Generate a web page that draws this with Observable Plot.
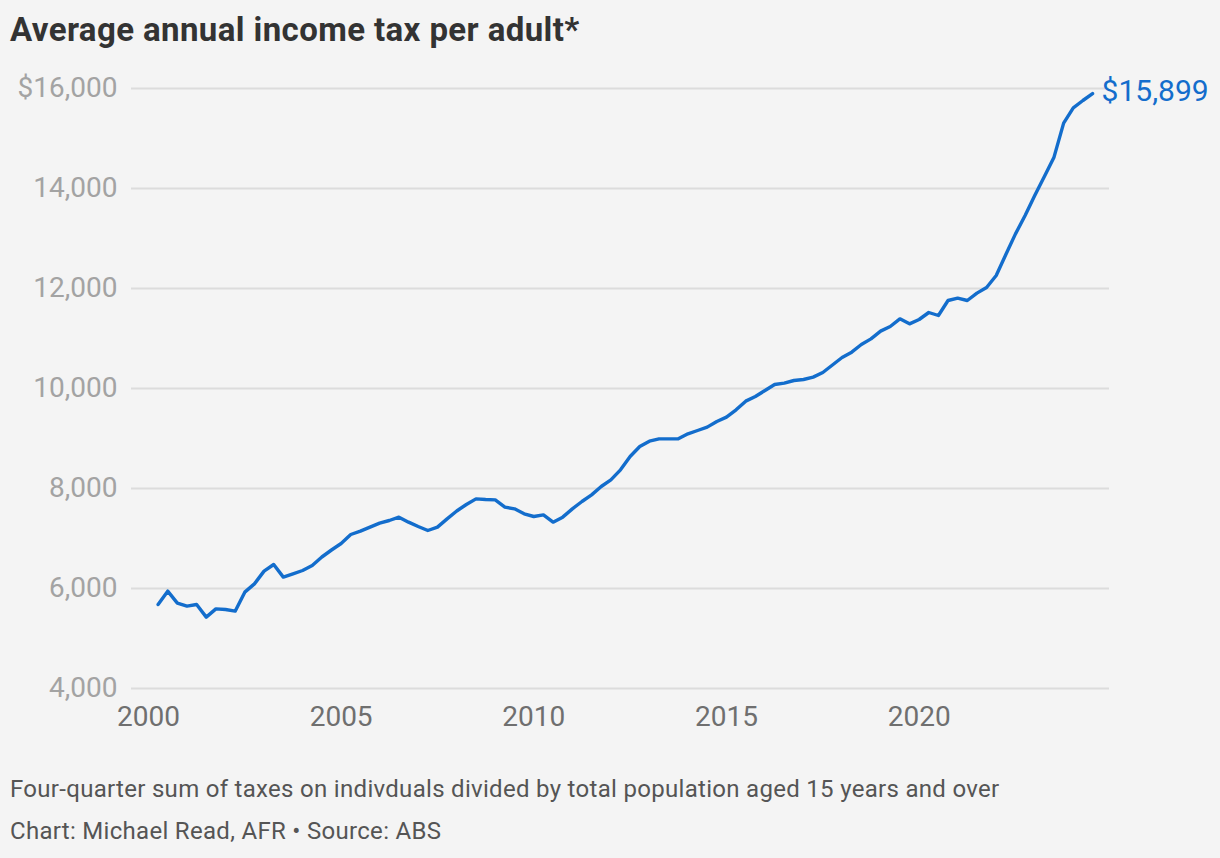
<!DOCTYPE html>
<html>
<head>
<meta charset="utf-8">
<script src="https://cdn.jsdelivr.net/npm/d3@7"></script>
<script src="https://cdn.jsdelivr.net/npm/@observablehq/plot@0.6"></script>
<style>
  html, body { margin: 0; padding: 0; background: #f4f4f4; }
  body { width: 1220px; height: 858px; position: relative; overflow: hidden; font-family: Roboto, "Noto Sans", sans-serif; }
  #title { position: absolute; left: 10px; top: 11px; font-size: 33px; font-weight: 700; color: #333; letter-spacing: 0.4px; line-height: 38px; white-space: nowrap; }
  #chart { position: absolute; left: 0; top: 60px; }
  .foot { position: absolute; left: 10px; font-size: 24px; color: #555; line-height: 28px; letter-spacing: 0.3px; white-space: nowrap; }
  #note { top: 775px; }
  #credit { top: 817px; }
</style>
</head>
<body>
<div id="title">Average annual income tax per adult*</div>
<div id="chart"></div>
<div class="foot" id="note">Four-quarter sum of taxes on indivduals divided by total population aged 15 years and over</div>
<div class="foot" id="credit">Chart: Michael Read, AFR • Source: ABS</div>
<script>
// Quarterly series, March 2000 to June 2024
const firstQuarter = 2000.25;
const taxPerAdult = [
  5680, 5947, 5707, 5647, 5680, 5427, 5593, 5580, 5547, 5927,
  6093, 6347, 6480, 6227, 6293, 6360, 6460, 6630, 6770, 6900,
  7080, 7147, 7227, 7307, 7360, 7427, 7327, 7240, 7160, 7227,
  7393, 7550, 7680, 7793, 7780, 7773, 7627, 7593, 7493, 7440,
  7473, 7327, 7427, 7593, 7740, 7873, 8040, 8173, 8373, 8640,
  8840, 8947, 8993, 8993, 8993, 9093, 9160, 9227, 9340, 9427,
  9573, 9747, 9840, 9960, 10080, 10107, 10160, 10180, 10227, 10320,
  10470, 10620, 10727, 10880, 10993, 11147, 11240, 11393, 11293, 11380,
  11520, 11460, 11760, 11807, 11760, 11907, 12020, 12260, 12680, 13093,
  13460, 13860, 14240, 14627, 15307, 15613, 15760, 15899
];
const xTicks = [2000, 2005, 2010, 2015, 2020];
const yTicks = [4000, 6000, 8000, 10000, 12000, 14000, 16000];
const endLabel = "$15,899";

const data = taxPerAdult.map((v, i) => ({ t: firstQuarter + i * 0.25, v }));
const last = data[data.length - 1];

const blue = "#136dcc";
const chart = Plot.plot({
  width: 1220,
  height: 680,
  marginLeft: 131,
  marginRight: 111,
  marginTop: 28,
  marginBottom: 52,
  style: { background: "transparent", fontFamily: "Roboto, 'Noto Sans', sans-serif", overflow: "visible" },
  x: { domain: [1999.56, 2024.94], ticks: xTicks, tickFormat: d3.format("d"), label: null },
  y: { domain: [4000, 16000], ticks: yTicks, label: null },
  marks: [
    Plot.gridY(yTicks, { stroke: "#dcdcdc", strokeOpacity: 1, strokeWidth: 2 }),
    Plot.axisY(yTicks, {
      tickSize: 0, tickPadding: 14, fontSize: 28, fill: "#a3a3a3", label: null,
      tickFormat: d => (d === 16000 ? "$" : "") + d3.format(",")(d)
    }),
    Plot.axisX(xTicks, {
      tickSize: 0, tickPadding: 18, fontSize: 28, fill: "#6f6f6f", label: null,
      tickFormat: d3.format("d")
    }),
    Plot.line(data, { x: "t", y: "v", stroke: blue, strokeWidth: 3.4, strokeLinejoin: "round", strokeLinecap: "round" }),
    Plot.text([last], { x: "t", y: "v", text: () => endLabel, dx: 9, dy: -2, textAnchor: "start", fill: blue, fontSize: 30 })
  ]
});
document.getElementById("chart").appendChild(chart);
</script>
</body>
</html>
